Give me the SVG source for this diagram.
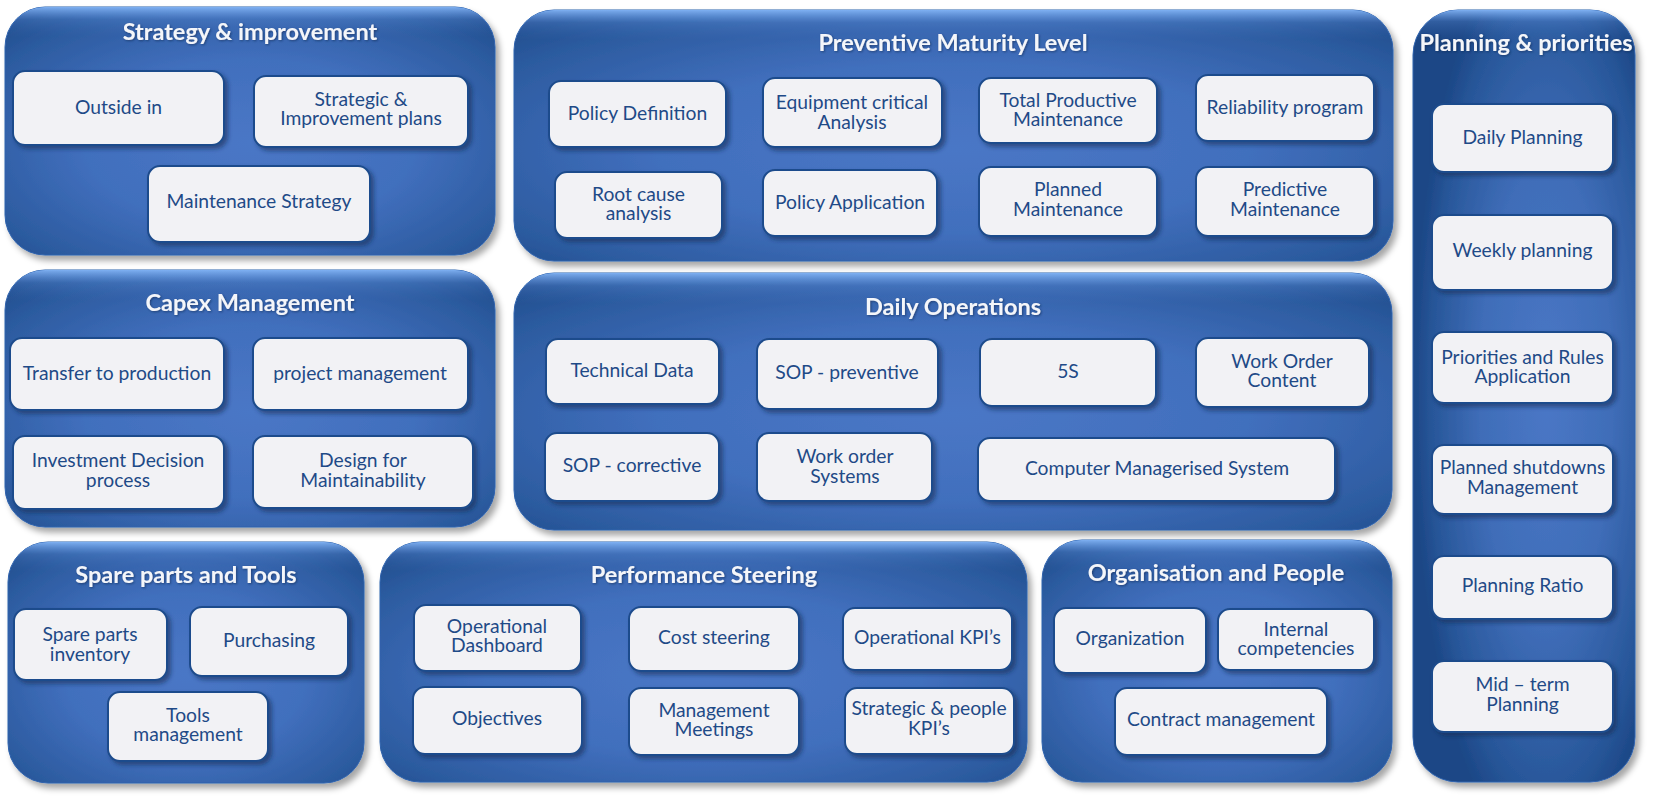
<svg xmlns="http://www.w3.org/2000/svg" width="1664" height="798" viewBox="0 0 1664 798">
<defs>
<radialGradient id="pg" cx="0.5" cy="0.55" r="0.75">
<stop offset="0" stop-color="#4A77C6"/>
<stop offset="0.45" stop-color="#416FBD"/>
<stop offset="0.8" stop-color="#2B5A9E"/>
<stop offset="1" stop-color="#1B4685"/>
</radialGradient>
<radialGradient id="pgv" cx="0.6" cy="0.5" r="0.6">
<stop offset="0" stop-color="#4A77C6"/>
<stop offset="0.5" stop-color="#3F6DB8"/>
<stop offset="0.85" stop-color="#28579A"/>
<stop offset="1" stop-color="#1C4786"/>
</radialGradient>
<linearGradient id="hl" x1="0" y1="0" x2="0" y2="1">
<stop offset="0" stop-color="#8CBEFF" stop-opacity="0.85"/>
<stop offset="0.05" stop-color="#6FA2EE" stop-opacity="0.25"/>
<stop offset="0.12" stop-color="#4A77C6" stop-opacity="0"/>
</linearGradient>
<linearGradient id="hlv" x1="0" y1="0" x2="0" y2="1">
<stop offset="0" stop-color="#8CBEFF" stop-opacity="0.85"/>
<stop offset="0.015" stop-color="#6FA2EE" stop-opacity="0.25"/>
<stop offset="0.04" stop-color="#4A77C6" stop-opacity="0"/>
</linearGradient>
<filter id="ps" x="-5%" y="-5%" width="112%" height="115%">
<feDropShadow dx="4" dy="5" stdDeviation="3" flood-color="#000" flood-opacity="0.35"/>
</filter>
<filter id="bs" x="-10%" y="-10%" width="125%" height="130%">
<feDropShadow dx="3" dy="3" stdDeviation="2" flood-color="#0B2550" flood-opacity="0.55"/>
</filter>
<filter id="ts" x="-5%" y="-20%" width="110%" height="150%">
<feDropShadow dx="1" dy="1" stdDeviation="0.8" flood-color="#0B2550" flood-opacity="0.6"/>
</filter>
</defs>
<style>
.panel{fill:url(#pg);stroke:#2E62AD;stroke-width:1}
.panelv{fill:url(#pgv);stroke:#2E62AD;stroke-width:1}
.hl{fill:url(#hl);stroke:none}
.hlv{fill:url(#hlv);stroke:none}
.box{fill:#F2F2F5;stroke:#1E4C8C;stroke-width:2}
.t{font-family:Lato,"Liberation Sans",sans-serif;font-size:19.3px;fill:#1F4A87;text-anchor:middle}
.h{font-family:Lato,"Liberation Sans",sans-serif;font-size:23.5px;font-weight:bold;fill:#F4F6FA;text-anchor:middle}
</style>
<rect width="1664" height="798" fill="#FFFFFF"/>
<g id="connectors"/>

<g id="strategy-improvement">
<rect class="panel" filter="url(#ps)" x="5" y="7" width="490" height="248" rx="40"/>
<rect class="hl" x="5" y="7" width="490" height="248" rx="40"/>
<text class="h" filter="url(#ts)" x="250" y="40">Strategy &amp; improvement</text>
<g id="outside-in"><rect class="box" filter="url(#bs)" x="13" y="71" width="211" height="74" rx="12"/><text class="t" x="118.5" y="113.5">Outside in</text></g>
<g id="strategic-improvement-plans"><rect class="box" filter="url(#bs)" x="254" y="76" width="214" height="71" rx="12"/><text class="t" x="361" y="106">Strategic &amp;<tspan x="361" dy="19">Improvement plans</tspan></text></g>
<g id="maintenance-strategy"><rect class="box" filter="url(#bs)" x="148" y="166" width="222" height="76" rx="12"/><text class="t" x="259" y="208">Maintenance Strategy</text></g>
</g>

<g id="capex-management">
<rect class="panel" filter="url(#ps)" x="5" y="270" width="490" height="257" rx="40"/>
<rect class="hl" x="5" y="270" width="490" height="257" rx="40"/>
<text class="h" filter="url(#ts)" x="250" y="311">Capex Management</text>
<g id="transfer-to-production"><rect class="box" filter="url(#bs)" x="10" y="338" width="214" height="72" rx="12"/><text class="t" x="117" y="379.5">Transfer to production</text></g>
<g id="project-management"><rect class="box" filter="url(#bs)" x="253" y="338" width="215" height="72" rx="12"/><text class="t" x="360" y="379.5">project management</text></g>
<g id="investment-decision"><rect class="box" filter="url(#bs)" x="13" y="436" width="211" height="73" rx="12"/><text class="t" x="118" y="467">Investment Decision<tspan x="118" dy="20">process</tspan></text></g>
<g id="design-for-maintainability"><rect class="box" filter="url(#bs)" x="253" y="436" width="220" height="72" rx="12"/><text class="t" x="363" y="467">Design for<tspan x="363" dy="20">Maintainability</tspan></text></g>
</g>

<g id="preventive-maturity-level">
<rect class="panel" filter="url(#ps)" x="514" y="10" width="879" height="251" rx="40"/>
<rect class="hl" x="514" y="10" width="879" height="251" rx="40"/>
<text class="h" filter="url(#ts)" x="953" y="51">Preventive Maturity Level</text>
<g id="policy-definition"><rect class="box" filter="url(#bs)" x="549" y="81" width="177" height="66" rx="12"/><text class="t" x="637.5" y="119.5">Policy Definition</text></g>
<g id="equipment-critical-analysis"><rect class="box" filter="url(#bs)" x="763" y="78" width="179" height="69" rx="12"/><text class="t" x="852" y="108.5">Equipment critical<tspan x="852" dy="20">Analysis</tspan></text></g>
<g id="total-productive-maintenance"><rect class="box" filter="url(#bs)" x="979" y="78" width="178" height="65" rx="12"/><text class="t" x="1068" y="106.5">Total Productive<tspan x="1068" dy="19">Maintenance</tspan></text></g>
<g id="reliability-program"><rect class="box" filter="url(#bs)" x="1196" y="75" width="178" height="66" rx="12"/><text class="t" x="1285" y="113.5">Reliability program</text></g>
<g id="root-cause-analysis"><rect class="box" filter="url(#bs)" x="555" y="172" width="167" height="66" rx="12"/><text class="t" x="638.5" y="200.5">Root cause<tspan x="638.5" dy="19">analysis</tspan></text></g>
<g id="policy-application"><rect class="box" filter="url(#bs)" x="763" y="170" width="174" height="66" rx="12"/><text class="t" x="850" y="208.5">Policy Application</text></g>
<g id="planned-maintenance"><rect class="box" filter="url(#bs)" x="979" y="167" width="178" height="69" rx="12"/><text class="t" x="1068" y="195.5">Planned<tspan x="1068" dy="20">Maintenance</tspan></text></g>
<g id="predictive-maintenance"><rect class="box" filter="url(#bs)" x="1196" y="167" width="178" height="69" rx="12"/><text class="t" x="1285" y="195.5">Predictive<tspan x="1285" dy="20">Maintenance</tspan></text></g>
</g>

<g id="daily-operations">
<rect class="panel" filter="url(#ps)" x="514" y="273" width="878" height="257" rx="40"/>
<rect class="hl" x="514" y="273" width="878" height="257" rx="40"/>
<text class="h" filter="url(#ts)" x="953" y="315">Daily Operations</text>
<g id="technical-data"><rect class="box" filter="url(#bs)" x="546" y="339" width="173" height="65" rx="12"/><text class="t" x="632" y="376.5">Technical Data</text></g>
<g id="sop-preventive"><rect class="box" filter="url(#bs)" x="757" y="339" width="181" height="70" rx="12"/><text class="t" x="847" y="378.5">SOP - preventive</text></g>
<g id="five-s"><rect class="box" filter="url(#bs)" x="980" y="339" width="176" height="67" rx="12"/><text class="t" x="1068" y="377.5">5S</text></g>
<g id="work-order-content"><rect class="box" filter="url(#bs)" x="1196" y="338" width="173" height="69" rx="12"/><text class="t" x="1282" y="367.5">Work Order<tspan x="1282" dy="19">Content</tspan></text></g>
<g id="sop-corrective"><rect class="box" filter="url(#bs)" x="545" y="433" width="174" height="68" rx="12"/><text class="t" x="632" y="471.5">SOP - corrective</text></g>
<g id="work-order-systems"><rect class="box" filter="url(#bs)" x="757" y="433" width="175" height="68" rx="12"/><text class="t" x="845" y="462.5">Work order<tspan x="845" dy="20">Systems</tspan></text></g>
<g id="computer-managerised-system"><rect class="box" filter="url(#bs)" x="978" y="438" width="357" height="63" rx="12"/><text class="t" x="1157" y="474.5">Computer Managerised System</text></g>
</g>

<g id="planning-priorities">
<rect class="panelv" filter="url(#ps)" x="1413" y="10" width="222" height="772" rx="45"/>
<rect class="hlv" x="1413" y="10" width="222" height="772" rx="45"/>
<text class="h" filter="url(#ts)" x="1526" y="51">Planning &amp; priorities</text>
<g id="daily-planning"><rect class="box" filter="url(#bs)" x="1432" y="104" width="181" height="68" rx="12"/><text class="t" x="1522.5" y="143.5">Daily Planning</text></g>
<g id="weekly-planning"><rect class="box" filter="url(#bs)" x="1432" y="215" width="181" height="75" rx="12"/><text class="t" x="1522.5" y="256.5">Weekly planning</text></g>
<g id="priorities-rules"><rect class="box" filter="url(#bs)" x="1432" y="332" width="181" height="71" rx="12"/><text class="t" x="1522.5" y="363.5">Priorities and Rules<tspan x="1522.5" dy="19">Application</tspan></text></g>
<g id="planned-shutdowns"><rect class="box" filter="url(#bs)" x="1432" y="445" width="181" height="69" rx="12"/><text class="t" x="1522.5" y="473.5">Planned shutdowns<tspan x="1522.5" dy="20">Management</tspan></text></g>
<g id="planning-ratio"><rect class="box" filter="url(#bs)" x="1432" y="556" width="181" height="63" rx="12"/><text class="t" x="1522.5" y="591.5">Planning Ratio</text></g>
<g id="mid-term-planning"><rect class="box" filter="url(#bs)" x="1432" y="661" width="181" height="71" rx="12"/><text class="t" x="1522.5" y="690.5">Mid – term<tspan x="1522.5" dy="20">Planning</tspan></text></g>
</g>

<g id="spare-parts-tools">
<rect class="panel" filter="url(#ps)" x="8" y="542" width="356" height="241" rx="40"/>
<rect class="hl" x="8" y="542" width="356" height="241" rx="40"/>
<text class="h" filter="url(#ts)" x="186" y="583">Spare parts and Tools</text>
<g id="spare-parts-inventory"><rect class="box" filter="url(#bs)" x="14" y="609" width="153" height="71" rx="12"/><text class="t" x="90" y="640.5">Spare parts<tspan x="90" dy="20">inventory</tspan></text></g>
<g id="purchasing"><rect class="box" filter="url(#bs)" x="190" y="607" width="158" height="69" rx="12"/><text class="t" x="269" y="646.5">Purchasing</text></g>
<g id="tools-management"><rect class="box" filter="url(#bs)" x="108" y="692" width="160" height="69" rx="12"/><text class="t" x="188" y="721.5">Tools<tspan x="188" dy="19">management</tspan></text></g>
</g>

<g id="performance-steering">
<rect class="panel" filter="url(#ps)" x="380" y="542" width="647" height="240" rx="40"/>
<rect class="hl" x="380" y="542" width="647" height="240" rx="40"/>
<text class="h" filter="url(#ts)" x="704" y="583">Performance Steering</text>
<g id="operational-dashboard"><rect class="box" filter="url(#bs)" x="414" y="605" width="167" height="66" rx="12"/><text class="t" x="497" y="632.5">Operational<tspan x="497" dy="19">Dashboard</tspan></text></g>
<g id="objectives"><rect class="box" filter="url(#bs)" x="413" y="687" width="169" height="67" rx="12"/><text class="t" x="497" y="724.5">Objectives</text></g>
<g id="cost-steering"><rect class="box" filter="url(#bs)" x="629" y="607" width="170" height="64" rx="12"/><text class="t" x="714" y="643.5">Cost steering</text></g>
<g id="management-meetings"><rect class="box" filter="url(#bs)" x="629" y="688" width="170" height="67" rx="12"/><text class="t" x="714" y="716.5">Management<tspan x="714" dy="19">Meetings</tspan></text></g>
<g id="operational-kpis"><rect class="box" filter="url(#bs)" x="843" y="608" width="169" height="62" rx="12"/><text class="t" x="927.5" y="643.5">Operational KPI’s</text></g>
<g id="strategic-people-kpis"><rect class="box" filter="url(#bs)" x="845" y="688" width="169" height="66" rx="12"/><text class="t" x="929" y="714.5">Strategic &amp; people<tspan x="929" dy="20">KPI’s</tspan></text></g>
</g>

<g id="organisation-people">
<rect class="panel" filter="url(#ps)" x="1042" y="540" width="350" height="242" rx="40"/>
<rect class="hl" x="1042" y="540" width="350" height="242" rx="40"/>
<text class="h" filter="url(#ts)" x="1216" y="581">Organisation and People</text>
<g id="organization"><rect class="box" filter="url(#bs)" x="1054" y="608" width="152" height="65" rx="12"/><text class="t" x="1130" y="644.5">Organization</text></g>
<g id="internal-competencies"><rect class="box" filter="url(#bs)" x="1218" y="609" width="156" height="61" rx="12"/><text class="t" x="1296" y="635.5">Internal<tspan x="1296" dy="19">competencies</tspan></text></g>
<g id="contract-management"><rect class="box" filter="url(#bs)" x="1115" y="688" width="212" height="67" rx="12"/><text class="t" x="1221" y="725.5">Contract management</text></g>
</g>
</svg>
